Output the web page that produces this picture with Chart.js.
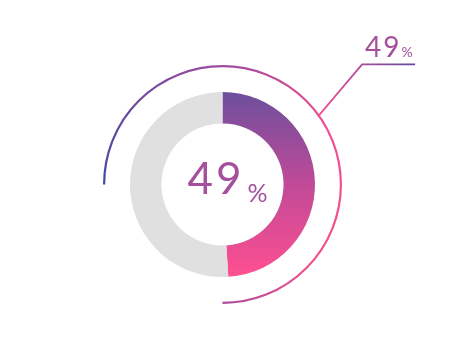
<!DOCTYPE html>
<html>
<head>
<meta charset="utf-8">
<script src="https://cdn.jsdelivr.net/npm/chart.js@4"></script>
<style>
  html, body { margin: 0; padding: 0; background: #fff; }
  #wrap { width: 450px; height: 359px; }
</style>
</head>
<body>
<div id="wrap"><canvas id="pie" width="450" height="359"></canvas></div>
<script>
const labels = ["49%", "rest"];
const values = [49, 51];
const valueText = "49";
const unitText = "%";

/* ====== GRADIENTS ====== */
function segColor(ctx) {
    if (ctx.dataIndex === 1) return "#e0e0e0";
    const area = ctx.chart.chartArea;
    if (!area) return "#a04f9e";
    const g = ctx.chart.ctx.createLinearGradient(0, area.top, 0, area.bottom);
    g.addColorStop(0, "#6c4f9c");
    g.addColorStop(0.5, "#c04a98");
    g.addColorStop(1, "#ff4f90");
    return g;
}

/* ====== DECORATION: outer arc, leader line, labels ====== */
const decor = {
    id: "decor",
    afterDraw(chart) {
        const c = chart.ctx;
        const arc = chart.getDatasetMeta(0).data[0];
        const cx = arc.x, cy = arc.y, r = arc.outerRadius * 1.28;

        // outer ring from 9 o'clock clockwise to 6 o'clock
        const cg = c.createConicGradient(Math.PI, cx, cy);
        cg.addColorStop(0, "#4447a0");
        cg.addColorStop(0.25, "#9d4c9f");
        cg.addColorStop(0.42, "#f04f92");
        cg.addColorStop(0.62, "#f4508f");
        cg.addColorStop(0.75, "#a94a99");
        cg.addColorStop(1, "#4447a0");
        c.save();
        c.lineWidth = 2.2;
        c.strokeStyle = cg;
        c.beginPath();
        c.arc(cx, cy, r, Math.PI, Math.PI * 2.5);
        c.stroke();

        // leader line
        const ang = -35.5 * Math.PI / 180;
        const x0 = cx + Math.cos(ang) * (r - 1);
        const y0 = cy + Math.sin(ang) * (r - 1);
        const x1 = x0 + 44, y1 = y0 - 52;
        const x2 = x1 + 53;
        const lg = c.createLinearGradient(x0, y0, x2, y1);
        lg.addColorStop(0, "#f4508f");
        lg.addColorStop(0.45, "#c04d9a");
        lg.addColorStop(1, "#5a4aa0");
        c.strokeStyle = lg;
        c.lineWidth = 1.8;
        c.beginPath();
        c.moveTo(x0, y0);
        c.lineTo(x1, y1);
        c.lineTo(x2, y1);
        c.stroke();

        // label above the leader line
        c.fillStyle = "#a4509c";
        c.textBaseline = "alphabetic";
        c.textAlign = "left";
        c.letterSpacing = "2px";
        c.font = "400 28px Lato";
        c.fillText(valueText, x1 + 3, y1 - 7);
        const w1 = c.measureText(valueText).width;
        c.letterSpacing = "0px";
        c.font = "400 14px Lato";
        c.fillText(unitText, x1 + 3 + w1, y1 - 7);

        // center text
        c.letterSpacing = "3px";
        c.font = "400 44px Lato";
        const wc = c.measureText(valueText).width;
        c.letterSpacing = "0px";
        c.font = "400 25px Lato";
        const wu = c.measureText(unitText).width;
        const left = cx + 5 - (wc + 3 + wu) / 2;
        c.letterSpacing = "3px";
        c.font = "400 44px Lato";
        c.fillText(valueText, left, cy + 9.5);
        c.letterSpacing = "0px";
        c.font = "400 25px Lato";
        c.fillText(unitText, left + wc + 3, cy + 17);
        c.restore();
    }
};

new Chart(document.getElementById("pie"), {
    type: "doughnut",
    data: {
        labels: labels,
        datasets: [{
            data: values,
            backgroundColor: segColor,
            borderWidth: 0
        }]
    },
    options: {
        responsive: false,
        animation: false,
        cutout: "66%",
        layout: { padding: { left: 130, right: 135, top: 92, bottom: 82 } },
        plugins: { legend: { display: false }, tooltip: { enabled: false } }
    },
    plugins: [decor]
});
</script>
</body>
</html>
